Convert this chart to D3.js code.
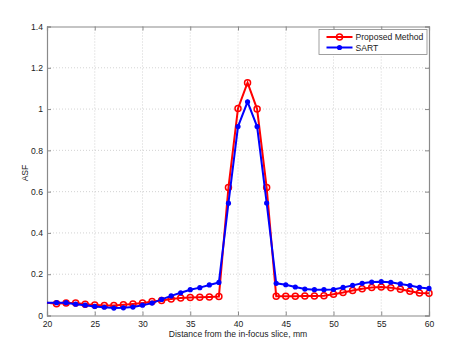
<!DOCTYPE html>
<html><head><meta charset="utf-8">
<script src="https://cdn.jsdelivr.net/npm/d3@7"></script>
<style>body{margin:0;background:#fff}svg{display:block}text{font-family:"Liberation Sans",Arial,sans-serif}</style>
</head><body><svg id="c" width="474" height="355"></svg>
<script>
const xs = [20,21,22,23,24,25,26,27,28,29,30,31,32,33,34,35,36,37,38,39,40,41,42,43,44,45,46,47,48,49,50,51,52,53,54,55,56,57,58,59,60];
const proposed = [0.062,0.057,0.060,0.060,0.055,0.051,0.048,0.048,0.052,0.056,0.060,0.068,0.073,0.080,0.085,0.087,0.088,0.090,0.092,0.620,1.003,1.128,1.000,0.620,0.093,0.093,0.093,0.094,0.094,0.096,0.103,0.111,0.121,0.130,0.136,0.138,0.135,0.127,0.117,0.109,0.108];
const sart = [0.062,0.062,0.062,0.055,0.050,0.044,0.040,0.036,0.037,0.041,0.050,0.060,0.078,0.095,0.110,0.125,0.135,0.148,0.160,0.544,0.915,1.035,0.915,0.545,0.156,0.149,0.138,0.128,0.125,0.125,0.126,0.136,0.146,0.156,0.162,0.164,0.161,0.153,0.145,0.136,0.131];
const xTicks = [20,25,30,35,40,45,50,55,60];
const yTicks = [0,0.2,0.4,0.6,0.8,1,1.2,1.4];
const seriesNames = ["Proposed Method","SART"];

const svg = d3.select("#c");
const L=47,R=429,T=26.5,B=315.5;
const FS="8.6px";
const x = d3.scaleLinear().domain([20,60]).range([L,R]);
const y = d3.scaleLinear().domain([0,1.4]).range([B,T]);
const axisCol="#8a8a8a";

// grid
const g = svg.append("g");
g.selectAll(".gx").data(xTicks.slice(1,-1)).join("line")
 .attr("x1",d=>x(d)).attr("x2",d=>x(d)).attr("y1",T).attr("y2",B)
 .attr("stroke","#c8c8c8").attr("stroke-width",0.8).attr("stroke-dasharray","1,2");
g.selectAll(".gy").data(yTicks.slice(1,-1)).join("line")
 .attr("y1",d=>y(d)).attr("y2",d=>y(d)).attr("x1",L).attr("x2",R)
 .attr("stroke","#c8c8c8").attr("stroke-width",0.8).attr("stroke-dasharray","1,2");

// axes
const ax = svg.append("g").attr("transform",`translate(0,${B})`)
 .call(d3.axisBottom(x).tickValues(xTicks).tickSize(-4).tickPadding(5).tickFormat(d3.format("d")));
const axT = svg.append("g").attr("transform",`translate(0,${T})`)
 .call(d3.axisTop(x).tickValues(xTicks).tickSize(-4).tickFormat(""));
const ay = svg.append("g").attr("transform",`translate(${L},0)`)
 .call(d3.axisLeft(y).tickValues(yTicks).tickSize(-4).tickPadding(4).tickFormat(d=>d3.format("")(+d.toFixed(1))));
const ayR = svg.append("g").attr("transform",`translate(${R},0)`)
 .call(d3.axisRight(y).tickValues(yTicks).tickSize(-4).tickFormat(""));
[ax,axT,ay,ayR].forEach(a=>{
  a.select(".domain").attr("stroke",axisCol).attr("stroke-width",1.2);
  a.selectAll(".tick line").attr("stroke",axisCol);
  a.selectAll("text").attr("fill","#222").style("font-size",FS);
});

svg.append("text").attr("x",x(40)).attr("y",337).attr("text-anchor","middle")
 .attr("fill","#222").style("font-size",FS).text("Distance from the in-focus slice, mm");
svg.append("text").attr("transform",`translate(27.5,${y(0.7)+2}) rotate(-90)`).attr("text-anchor","middle")
 .attr("fill","#222").style("font-size",FS).text("ASF");

// lines
const line = d3.line().x((d,i)=>x(xs[i])).y(d=>y(d));
svg.append("path").datum(proposed).attr("d",line).attr("fill","none").attr("stroke","#ff0000").attr("stroke-width",2);
svg.append("g").selectAll("circle").data(proposed.slice(1)).join("circle")
 .attr("cx",(d,i)=>x(xs[i+1])).attr("cy",d=>y(d)).attr("r",3)
 .attr("fill","none").attr("stroke","#ff0000").attr("stroke-width",1.5);
svg.append("path").datum(sart).attr("d",line).attr("fill","none").attr("stroke","#0000ff").attr("stroke-width",2);
svg.append("g").selectAll("circle").data(sart.slice(1)).join("circle")
 .attr("cx",(d,i)=>x(xs[i+1])).attr("cy",d=>y(d)).attr("r",2.6)
 .attr("fill","#0000ff");

// legend
const lg = svg.append("g");
lg.append("rect").attr("x",319).attr("y",29.5).attr("width",108).attr("height",25)
 .attr("fill","#fff").attr("stroke","#888").attr("stroke-width",0.8);
const cols=["#ff0000","#0000ff"];
seriesNames.forEach((n,i)=>{
  const yy = 37+i*10.5;
  lg.append("line").attr("x1",326.5).attr("x2",352.5).attr("y1",yy).attr("y2",yy).attr("stroke",cols[i]).attr("stroke-width",2);
  if(i===0) lg.append("circle").attr("cx",339.5).attr("cy",yy).attr("r",3).attr("fill","none").attr("stroke",cols[i]).attr("stroke-width",1.5);
  else lg.append("circle").attr("cx",339.5).attr("cy",yy).attr("r",2.6).attr("fill",cols[i]);
  lg.append("text").attr("x",355.5).attr("y",yy+3).attr("fill","#222").style("font-size",FS).text(n);
});
</script></body></html>
